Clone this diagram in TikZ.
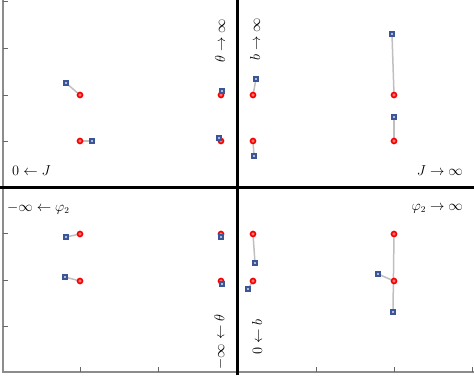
\documentclass[tikz,border=0pt]{standalone}
\usepackage{amsmath}
\usetikzlibrary{positioning,backgrounds}

\definecolor{probeblue}{RGB}{60,85,150}

\begin{document}
\begin{tikzpicture}[
		x=1pt, y=-1pt,
		bead/.style={circle, draw=red!95!black, fill=red!55, line width=1.6pt, inner sep=0pt, minimum size=5pt},
		probe/.style={rectangle, draw=probeblue, fill=probeblue!40, line width=1.3pt, inner sep=0pt, minimum size=4pt},
		link/.style={draw=black!25, line width=1.5pt},
		lbl/.style={font=\fontsize{13.5}{16}\selectfont, inner sep=0pt},
	]
		\useasboundingbox (0,0) rectangle (474,375);
		
		% axes and ticks
		\draw[black!45, line width=1.5pt] (3,0) -- (3,372) -- (474,372);
		\foreach \y in {1,48,95,141,233,280,326}
			\draw[black!60, line width=0.8pt] (3,\y) -- (8,\y);
		\foreach \x in {80,158,316,394,472}
			\draw[black!60, line width=0.8pt] (\x,372) -- (\x,367);
		
		% quadrant cross
		\draw[line width=3pt] (237,0) -- (237,375);
		\draw[line width=3pt] (0,187) -- (474,187);
		
		% upper left
		\node (r1) [bead] at (80,95) {};
		\node (s1) [probe] at (66,83) {};
		\node (r2) [bead] at (80,141) {};
		\node (s2) [probe] at (92,141) {};
		\node (r3) [bead] at (221,95) {};
		\node (s3) [probe] at (222,91) {};
		\node (r4) [bead] at (221,141) {};
		\node (s4) [probe] at (219,138) {};
		
		% upper right
		\node (r5) [bead] at (253,95) {};
		\node (s5) [probe] at (256,79) {};
		\node (r6) [bead] at (253,141) {};
		\node (s6) [probe] at (254,156) {};
		\node (r7) [bead] at (394,95) {};
		\node (s7) [probe] at (392,34) {};
		\node (r8) [bead] at (394,141) {};
		\node (s8) [probe] at (394,117) {};
		
		% lower left
		\node (r9) [bead] at (80,234) {};
		\node (s9) [probe] at (66,237) {};
		\node (r10) [bead] at (80,281) {};
		\node (s10) [probe] at (65,277) {};
		\node (r11) [bead] at (221,234) {};
		\node (s11) [probe] at (221,237) {};
		\node (r12) [bead] at (221,281) {};
		\node (s12) [probe] at (222,284) {};
		
		% lower right
		\node (r13) [bead] at (253,234) {};
		\node (s13) [probe] at (255,263) {};
		\node (r14) [bead] at (253,281) {};
		\node (s14) [probe] at (248,289) {};
		\node (r15) [bead] at (394,234) {};
		\node (s15) [probe] at (393,312) {};
		\node (r16) [bead] at (394,281) {};
		\node (s16) [probe] at (378,274) {};
		
		\begin{scope}[on background layer]
			\foreach \i in {1,...,16}
				\draw[link] (r\i) -- (s\i);
		\end{scope}
		
		% limit labels
		\node (thpos) [lbl, rotate=90] at (220,41) {$\theta\rightarrow\infty$};
		\node (bpos) [lbl, rotate=90] at (255,39) {$b\rightarrow\infty$};
		\node (jzero) [lbl, anchor=west] at (12,171) {$0\leftarrow J$};
		\node (jinf) [lbl, anchor=east] at (463,171) {$J\rightarrow\infty$};
		\node (phineg) [lbl, anchor=west] at (7,209) {$-\infty\leftarrow\varphi_2$};
		\node (phipos) [lbl, anchor=east] at (463,209) {$\varphi_2\rightarrow\infty$};
		\node (thneg) [lbl, rotate=90] at (220,342) {$-\infty\leftarrow\theta$};
		\node (bzero) [lbl, rotate=90] at (257,337) {$0\leftarrow b$};
	\end{tikzpicture}
\end{document}
